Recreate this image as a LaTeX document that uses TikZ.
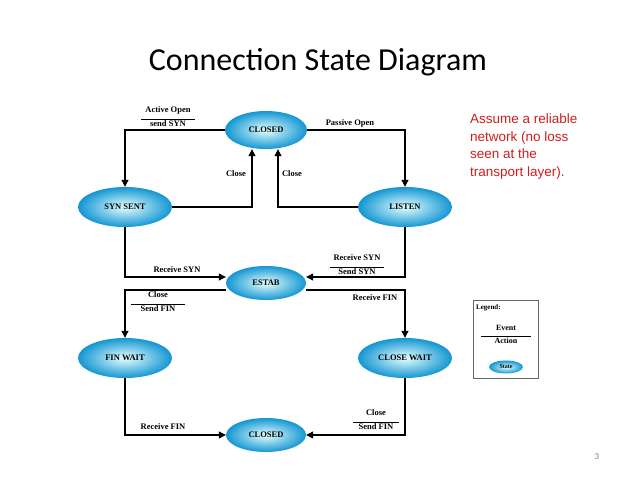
\documentclass[tikz,border=0pt]{standalone}
\usepackage{fontspec}
\newfontfamily\sans{Carlito}
\newfontfamily\arial{Liberation Sans}
\setmainfont{Liberation Serif}
\usetikzlibrary{shapes.geometric,arrows.meta}
\definecolor{stblue}{RGB}{20,150,210}
\definecolor{stred}{RGB}{205,30,30}
\begin{document}
\begin{tikzpicture}[x=1pt,y=-1pt,
  st/.style={ellipse,minimum width=82,minimum height=38,inner sep=0pt,
    inner color=cyan!10,outer color=stblue,font=\bfseries\fontsize{8.5}{9}\selectfont},
  ln/.style={line width=1.1pt},
  ar/.style={ln,-{Triangle[length=7pt,width=7pt]}},
  lb/.style={font=\bfseries\fontsize{8.5}{9.5}\selectfont,inner sep=1pt},
  fr/.style={lb,align=center}]
\useasboundingbox (0,0) rectangle (638,478);
\node[font=\sans\fontsize{32}{35}\selectfont] (title) at (318,62) {Connection State Diagram};
\node (c1) [st] at (266,130) {CLOSED};
\node (ss) [st,minimum width=94,minimum height=40] at (125,207) {SYN SENT};
\node (li) [st,minimum width=94,minimum height=40] at (405,207) {LISTEN};
\node (es) [st,minimum width=80,minimum height=34] at (266,283) {ESTAB};
\node (fw) [st,minimum width=94,minimum height=40] at (125,358) {FIN WAIT};
\node (cw) [st,minimum width=94,minimum height=40] at (405,358) {CLOSE WAIT};
\node (c2) [st,minimum width=80,minimum height=34] at (266,435) {CLOSED};
\draw[ar] (c1.west) -| (ss.north);
\draw[ar] (c1.east) -| (li.north);
\draw[ar] (ss.east) -| (c1.south -| 252,0);
\draw[ar] (li.west) -| (c1.south -| 278,0);
\draw[ar] (ss.south) |- (es.west |- 0,277);
\draw[ar] (li.south) |- (es.east |- 0,277);
\draw[ar] (es.east |- 0,290) -| (cw.north);
\draw[ar] (es.west |- 0,290) -| (fw.north);
\draw[ar] (fw.south) |- (c2.west);
\draw[ar] (cw.south) |- (c2.east);
\node[fr] (l1) at (168,117) {Active Open\\[-1pt]\rule[2pt]{54pt}{0.5pt}\\[-4pt]send SYN};
\node[lb] (l2) at (350,123) {Passive Open};
\node[lb] (l3) at (236,174) {Close};
\node[lb] (l4) at (292,174) {Close};
\node[lb] (l5) at (177,270) {Receive SYN};
\node[fr] (l6) at (357,265) {Receive SYN\\[-1pt]\rule[2pt]{54pt}{0.5pt}\\[-4pt]Send SYN};
\node[fr] (l7) at (158,302) {Close\\[-1pt]\rule[2pt]{54pt}{0.5pt}\\[-4pt]Send FIN};
\node[lb] (l8) at (375,298) {Receive FIN};
\node[lb] (l9) at (163,427) {Receive FIN};
\node[fr] (l10) at (376,420) {Close\\[-1pt]\rule[2pt]{46pt}{0.5pt}\\[-4pt]Send FIN};
\node[anchor=north west,align=left,text=stred,font=\arial\fontsize{13.5}{17.5}\selectfont,inner sep=0pt] (note) at (470,114)
  {Assume a reliable\\network (no loss\\seen at the\\transport layer).};
\draw[gray!80!black,line width=0.8pt] (473,300) rectangle (538,378);
\node[lb,anchor=north west,font=\bfseries\fontsize{7}{8}\selectfont] (lg) at (475,303) {Legend:};
\node[fr,font=\bfseries\fontsize{8}{9}\selectfont] (ea) at (506,334) {Event\\[-1pt]\rule[2pt]{50pt}{0.5pt}\\[-4pt]Action};
\node[st,minimum width=34,minimum height=13,font=\bfseries\fontsize{6}{7}\selectfont] (sl) at (506,367) {State};
\node[font=\sans\fontsize{9}{10}\selectfont,text=gray] (pg) at (597,457) {3};
\end{tikzpicture}
\end{document}
